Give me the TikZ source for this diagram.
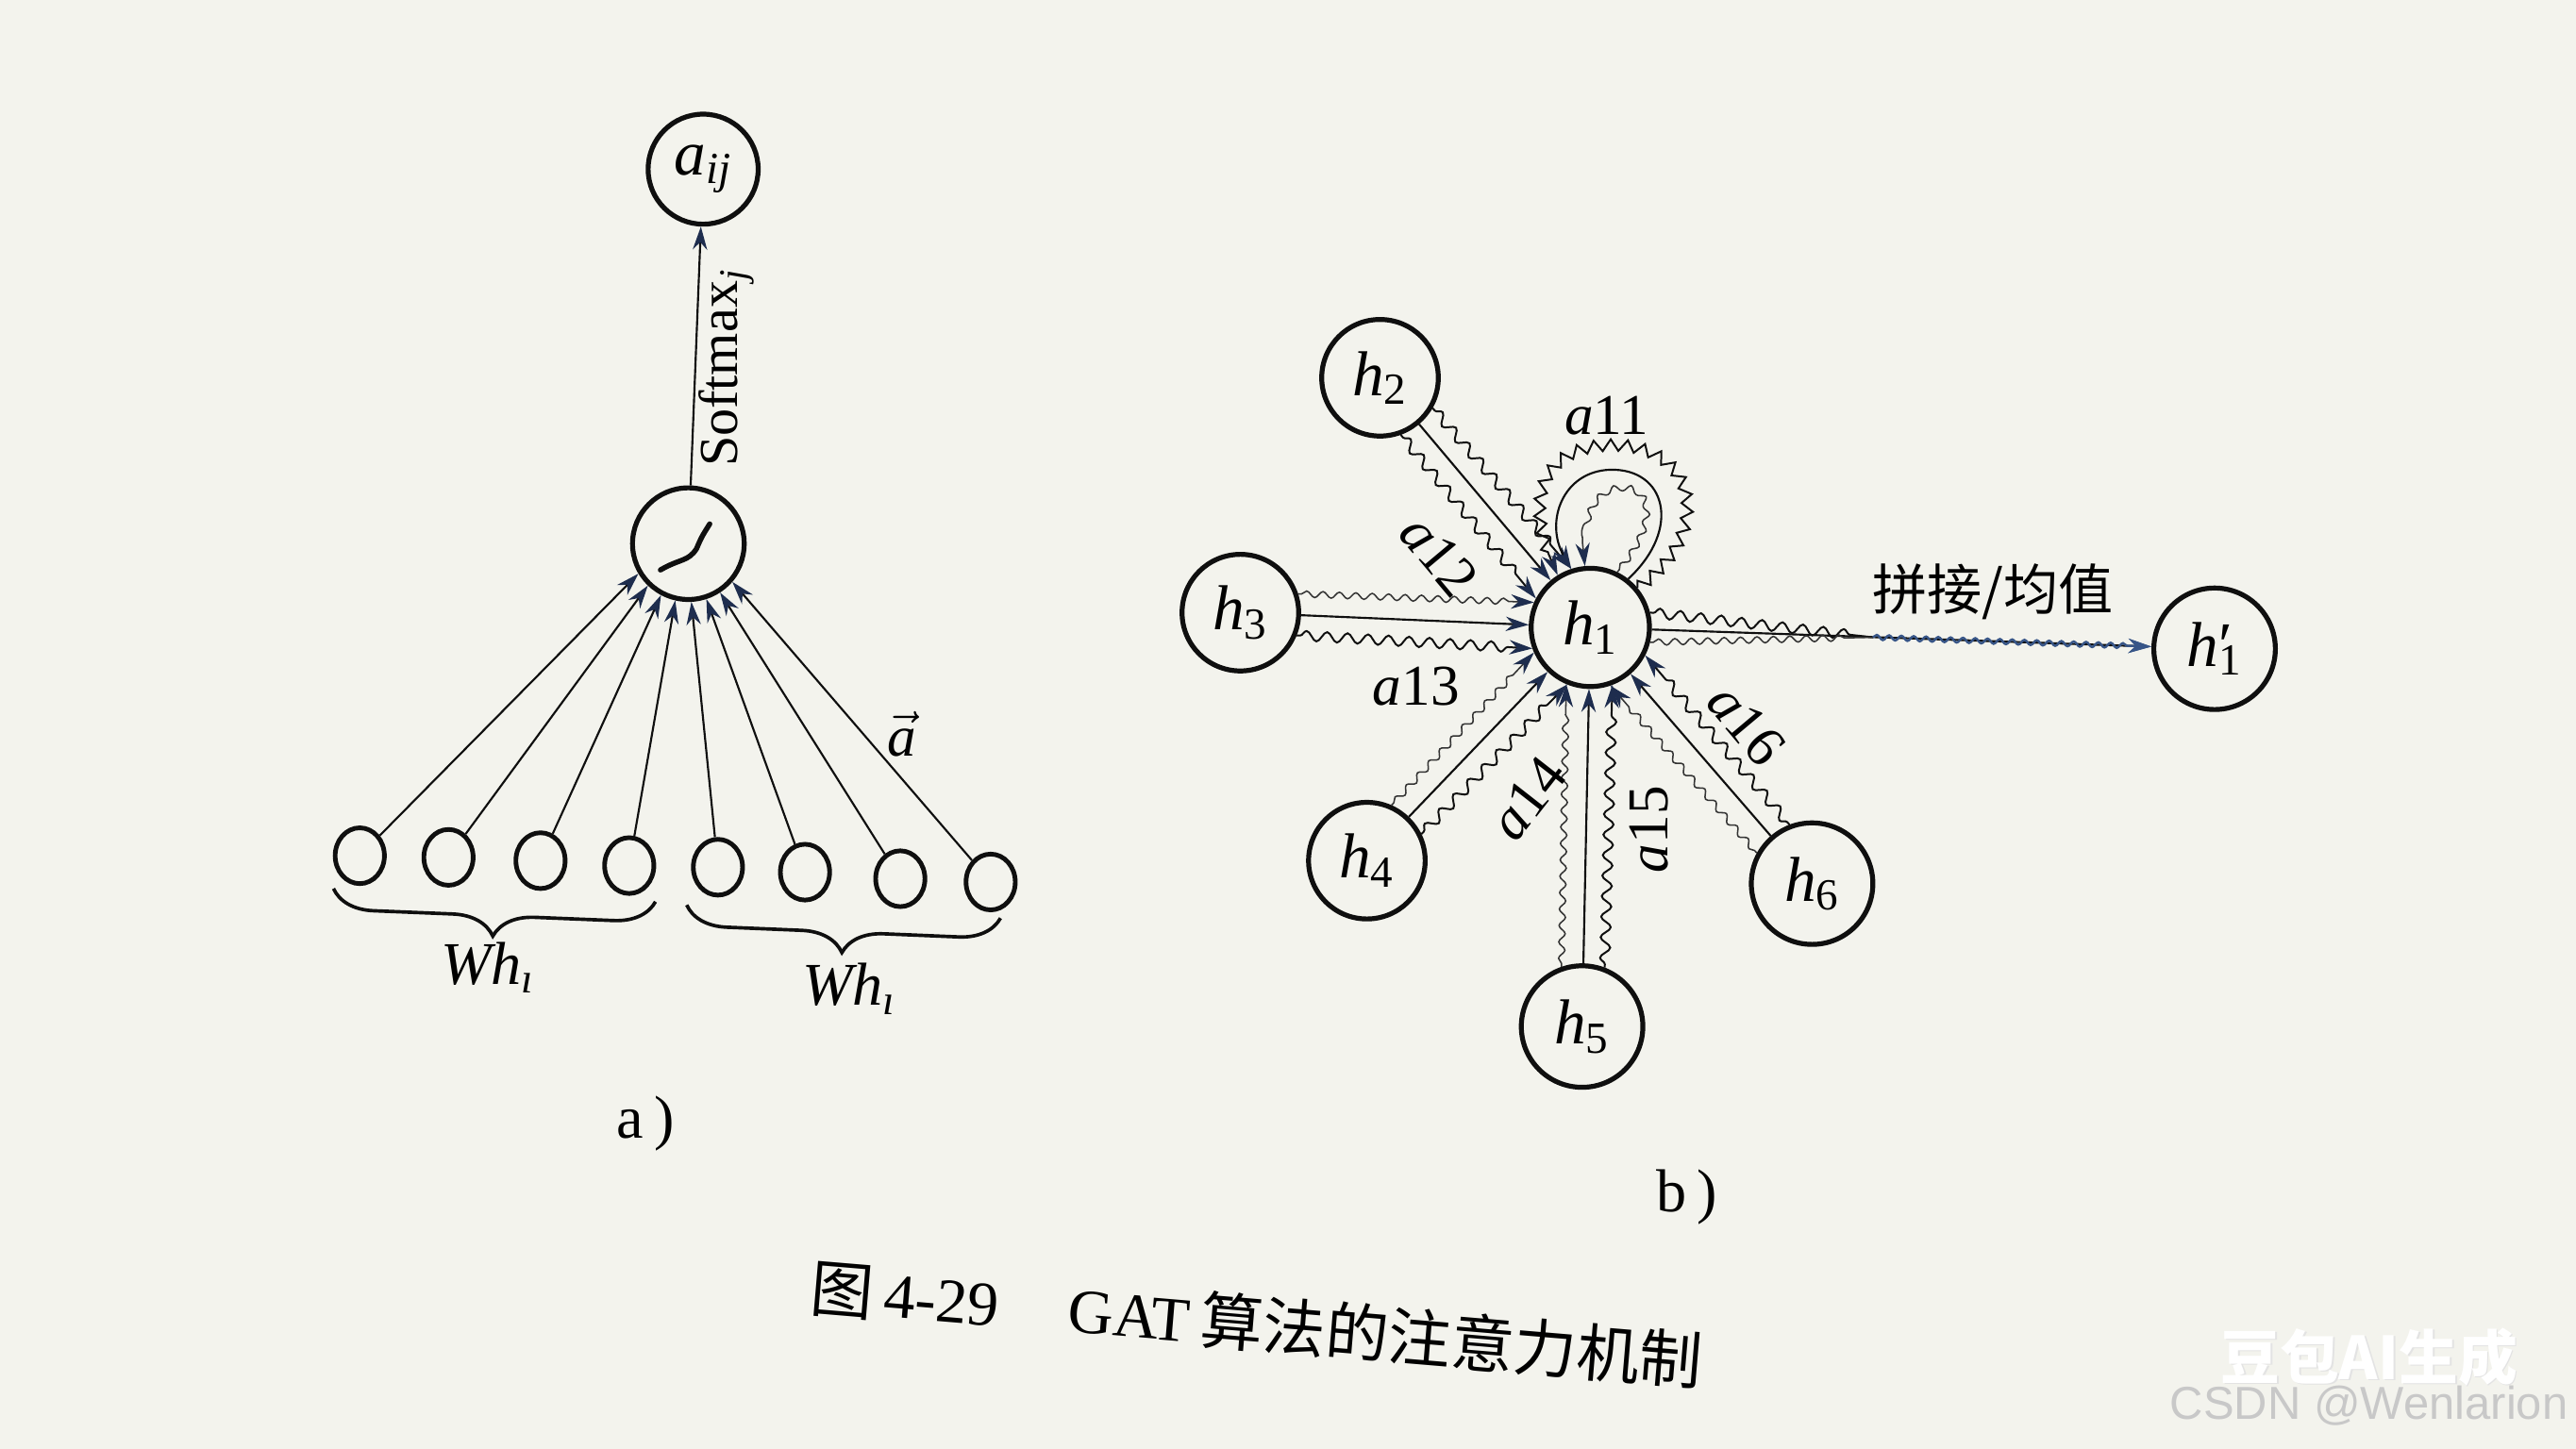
\documentclass[tikz,border=0pt]{standalone}
\usepackage{fontspec}
\setmainfont{Liberation Serif}
\newfontfamily\cjk{Noto Sans CJK SC}
\newfontfamily\wmsans{Liberation Sans}
\usetikzlibrary{arrows.meta,decorations.pathmorphing,decorations.pathreplacing,shapes.geometric}
\definecolor{bgc}{RGB}{243,243,237}
\definecolor{tipc}{RGB}{30,45,78}
\definecolor{outblue}{RGB}{55,85,135}
\definecolor{inkc}{RGB}{15,15,15}
\definecolor{wmgray}{RGB}{200,200,200}
\newcommand\hsub[1]{\textit{h}\textsubscript{#1}}
\begin{document}
\begin{tikzpicture}[x=0.02cm,y=-0.02cm,
  bignode/.style={circle,draw=inkc,line width=1.7pt,minimum size=1.42cm,inner sep=0pt,font=\fontsize{22}{22}\selectfont},
  innode/.style={ellipse,draw=inkc,line width=1.6pt,minimum width=0.6cm,minimum height=0.68cm,inner sep=0pt},
  arrtip/.style={-{Stealth[length=8pt,width=5pt,color=tipc]}},
  edge/.style={draw=inkc,line width=0.7pt,arrtip},
  waveA/.style={draw=inkc,line width=0.65pt,decorate,decoration={snake,amplitude=0.06cm,segment length=0.25cm,post length=0.28cm,pre length=0.04cm},arrtip},
  waveB/.style={draw=inkc!85,line width=0.5pt,decorate,decoration={snake,amplitude=0.038cm,segment length=0.2cm,post length=0.28cm,pre length=0.04cm},arrtip},
  waveZ/.style={draw=inkc,line width=0.65pt,decorate,decoration={zigzag,amplitude=0.07cm,segment length=0.2cm,post length=0.28cm},arrtip},
  outwave/.style={draw=outblue,line width=0.8pt,decorate,decoration={snake,amplitude=0.03cm,segment length=0.15cm,post length=0.28cm},-{Stealth[length=8pt,width=5pt,color=outblue]}},
  bracestyle/.style={draw=inkc,line width=1.2pt,decorate,decoration={brace,mirror,amplitude=0.5cm}},
  lab/.style={font=\fontsize{20}{20}\selectfont,inner sep=1pt},
]
\fill[bgc] (0,0) rectangle (1568,882);
\useasboundingbox (0,0) rectangle (1568,882);

% ---------- part a ----------
\node[bignode,minimum size=1.34cm] (aij) at (428,103) {\textit{a}\textsubscript{\textit{ij}}};
\node[bignode,minimum size=1.36cm] (s) at (419,331) {};
\draw[line width=1.8pt,line cap=round,draw=inkc] (402,347) .. controls (414,340) and (419,342) .. (424,334) .. controls (427,327) .. (432,319);
\foreach \i/\x/\y in {1/219/521,2/273/522,3/329/524,4/383/527,5/437/528,6/490/531,7/548/535,8/603/537}
  \node[innode] (c\i) at (\x,\y) {};
\foreach \i/\a in {1/211,2/226,3/242,4/257,5/273,6/288,7/303,8/319}
  \draw[edge] (c\i) -- (s.\a);
\draw[edge] (s) -- (aij);
\node[lab,font=\fontsize{19}{19}\selectfont,rotate=90] (sm) at (442,224) {Softmax\textsubscript{\textit{j}}};
\node[lab] (va) at (549,447) {$\vec{\mbox{\textit{a}}}$};
\draw[bracestyle] (203,541) -- (399,549);
\draw[bracestyle] (418,551) -- (609,559);
\node[lab,font=\fontsize{21}{21}\selectfont] (w1) at (297,589) {\textit{Wh}\textsubscript{\textit{\i}}};
\node[lab,font=\fontsize{21}{21}\selectfont] (w2) at (517,602) {\textit{Wh}\textsubscript{\textit{\i}}};
\node[lab,font=\fontsize{21}{21}\selectfont] (la) at (393,684) {a\,)};

% ---------- part b ----------
\node[bignode,minimum size=1.44cm] (h1) at (968,382) {\hsub{1}};
\node[bignode] (h2) at (840,230) {\hsub{2}};
\node[bignode] (h3) at (755,373) {\hsub{3}};
\node[bignode] (h4) at (832,524) {\hsub{4}};
\node[bignode,minimum size=1.48cm] (h5) at (963,625) {\hsub{5}};
\node[bignode,minimum size=1.48cm] (h6) at (1103,538) {\hsub{6}};
\node[bignode,minimum size=1.48cm] (hp) at (1348,395) {\textit{h}\rlap{\char"2032}\textsubscript{1}};

\foreach \k/\t/\sa/\sb in {2/130/waveA/waveA,3/178/waveB/waveA,4/226/waveB/waveA,5/269/waveB/waveA,6/311/waveB/waveA}{
  \pgfmathtruncatemacro\pa{mod(\t+200,360)}
  \pgfmathtruncatemacro\qa{\t-22}
  \pgfmathtruncatemacro\pb{mod(\t+160,360)}
  \pgfmathtruncatemacro\qb{\t+22}
  \draw[edge] (h\k) -- (h1);
  \draw[\sa] (h\k.\pa) -- (h1.\qa);
  \draw[\sb] (h\k.\pb) -- (h1.\qb);
}

% self loop a11
\draw[waveZ] (h1.40) .. controls (1044,325) and (1034,270) .. (980,271) .. controls (938,272) and (926,305) .. (h1.122);
\draw[draw=inkc,line width=0.7pt,arrtip] (h1.52) .. controls (1024,322) and (1014,285) .. (980,286) .. controls (951,287) and (940,318) .. (h1.108);
\draw[waveB] (h1.64) .. controls (1008,320) and (1004,298) .. (985,299) .. controls (967,300) and (960,322) .. (h1.95);

% output
\coordinate (mg) at (1140,388);
\draw[draw=inkc,line width=0.7pt,-{Stealth[length=8pt,width=5pt,color=outblue]}] (h1) -- (hp);
\draw[waveA,-] (h1.14) -- (mg);
\draw[waveB,-] (h1.-14) -- (mg);
\draw[outwave] (mg) -- (hp.178);
\node[lab,font=\cjk\fontsize{19}{19}\selectfont] (cat) at (1213,360) {拼接/均值};

\node[lab] (l11) at (978,253) {\textit{a}11};
\node[lab,rotate=-50] (l12) at (876,338) {\textit{a}12};
\node[lab] (l13) at (862,418) {\textit{a}13};
\node[lab,rotate=52] (l14) at (930,486) {\textit{a}14};
\node[lab,rotate=90] (l15) at (1004,505) {\textit{a}15};
\node[lab,rotate=-50] (l16) at (1063,441) {\textit{a}16};
\node[lab,font=\fontsize{21}{21}\selectfont] (lb) at (1027,729) {b\,)};

% caption
\node[font=\fontsize{21.8}{21.8}\selectfont,rotate=-4.8,inner sep=0pt] (cap) at (765,806) {{\cjk 图}\,4-29\hspace{1.1em}GAT\,{\cjk 算法的注意力机制}};

% watermark
\node[font=\cjk\bfseries\fontsize{20.5}{20.5}\selectfont,text=gray!22] (wm0) at (1443,827) {豆包AI生成};
\node[font=\cjk\bfseries\fontsize{20.5}{20.5}\selectfont,text=white] (wm1) at (1442,826) {豆包AI生成};
\node[font=\wmsans\fontsize{16}{16}\selectfont,text=wmgray] (wm2) at (1442,856) {CSDN @Wenlarion};
\end{tikzpicture}
\end{document}
